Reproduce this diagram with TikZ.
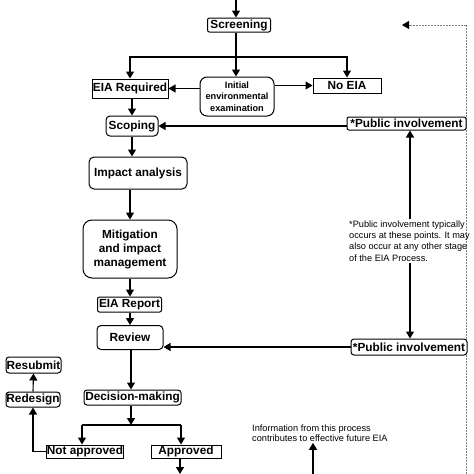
\documentclass[tikz,border=0pt]{standalone}
\usepackage{fontspec}
\setmainfont{Liberation Sans}
\usetikzlibrary{arrows.meta}
\tikzset{
  box/.style={draw, fill=white, line width=1pt, inner sep=0pt, align=center,
    font=\bfseries\fontsize{11.8}{14}\selectfont},
  rbox/.style={box, rounded corners=4pt},
  arr/.style={line width=1.1pt, -{Triangle[length=7pt,width=8pt]}},
  ln/.style={line width=1.1pt},
  dsh/.style={draw=gray, line width=0.9pt, dash pattern=on 2pt off 1pt},
  notetext/.style={inner sep=1pt, align=left, font=\fontsize{9.2}{11.3}\selectfont}
}
\begin{document}
\begin{tikzpicture}[x=1pt,y=-1pt]
\useasboundingbox (0,0) rectangle (474,474);
% dashed feedback line (behind boxes)
\coordinate (dbot) at (466,474);
\coordinate (dtop) at (466,25);
\coordinate (dend) at (402,25);
\draw[dsh] (dbot) -- (dtop);
\draw[dsh, -{Triangle[length=7pt,width=8pt,color=black]}] (dtop) -- (dend);

% nodes
\node[box, rounded corners=2pt, minimum width=63pt, minimum height=14pt] (scr) at (239,25) {Screening};
\node[box, minimum width=76pt, minimum height=19pt] (eiar) at (130,88.5) {EIA Required};
\node[box, rounded corners=7pt, minimum width=74pt, minimum height=39pt,
      font=\bfseries\fontsize{9.2}{11.5}\selectfont] (iee) at (237,96.5) {Initial\\environmental\\examination};
\node[box, minimum width=68pt, minimum height=15pt] (noeia) at (347,85.5) {No EIA};
\node[rbox, minimum width=52pt, minimum height=20pt] (scop) at (132,126) {Scoping};
\node[box, rounded corners=2pt, minimum width=119pt, minimum height=13pt] (pi1) at (406.5,123.5) {*Public involvement};
\node[rbox, rounded corners=5pt, minimum width=98pt, minimum height=32pt] (imp) at (138,173) {Impact analysis};
\node[rbox, rounded corners=9pt, minimum width=94pt, minimum height=58pt] (mit) at (130,249) {Mitigation\\and impact\\management};
\node[box, rounded corners=2pt, minimum width=64pt, minimum height=15pt] (rep) at (129.5,304.5) {EIA Report};
\node[rbox, minimum width=66pt, minimum height=24pt] (rev) at (130,337.5) {Review};
\node[box, rounded corners=3pt, minimum width=116pt, minimum height=16pt] (pi2) at (409,347) {*Public involvement};
\node[box, rounded corners=3pt, minimum width=97pt, minimum height=15pt] (dec) at (132.5,397.5) {Decision-making};
\node[box, minimum width=76pt, minimum height=13pt] (nap) at (85,451.5) {Not approved};
\node[box, minimum width=70pt, minimum height=13pt] (app) at (186,451.5) {Approved};
\node[box, rounded corners=3pt, minimum width=54pt, minimum height=15pt] (red) at (33,399.5) {Redesign};
\node[box, rounded corners=3pt, minimum width=55pt, minimum height=16pt] (res) at (33.5,365) {Resubmit};

\node[notetext, anchor=west] (note) at (348,241) {*Public involvement typically\\occurs at these points. It may\\also occur at any other stage\\of the EIA Process.};
\node[notetext, anchor=west, font=\fontsize{9.2}{10.5}\selectfont] (info) at (251,433) {Information from this process\\contributes to effective future EIA};

% connectors
\coordinate (top) at (236,0);
\draw[arr] (top) -- (top |- scr.north);
\coordinate (j1) at (236,57);
\draw[ln] (top |- scr.south) -- (j1);
\draw[arr] (j1) -- (j1 |- iee.north);
\draw[arr] (j1) -| (eiar.north);
\draw[arr] (j1) -| (noeia.north);
\draw[arr] (iee.west |- eiar) -- (eiar.east);
\draw[arr] (iee.east |- noeia) -- (noeia.west);
\draw[arr] (eiar.south -| scop) -- (scop.north);
\draw[arr] (pi1.west |- scop) -- (scop.east);
\draw[arr] (scop.south) -- (scop.south |- imp.north);
\draw[arr] (mit.north |- imp.south) -- (mit.north);
\draw[arr] (mit.south) -- (rep.north -| mit.south);
\draw[arr] (rep.south -| rev.north) -- (rev.north);
\draw[arr] (pi2.west) -- (pi2.west -| rev.east);
\coordinate (vx) at (410,0);
\draw[arr] (vx |- note.north) -- (vx |- pi1.south);
\draw[arr] (vx |- note.south) -- (vx |- pi2.north);
\draw[arr] (rev.south -| 131,0) -- (131,0 |- dec.north);
\coordinate (j2) at (131,425);
\coordinate (jl) at (82,425);
\coordinate (jr) at (181,425);
\draw[arr] (dec.south -| j2) -- (j2);
\draw[ln] (jl) -- (jr);
\draw[arr] (jl) -- (jl |- nap.north);
\draw[arr] (jr) -- (jr |- app.north);
\coordinate (abot) at (180,474);
\draw[arr] (abot |- app.south) -- (abot);
\draw[arr] (nap.west) -| (red.south);
\draw[arr] (red.north) -- (res.south);
\coordinate (ibot) at (313,474);
\draw[arr] (ibot) -- (ibot |- info.south);
\end{tikzpicture}
\end{document}
